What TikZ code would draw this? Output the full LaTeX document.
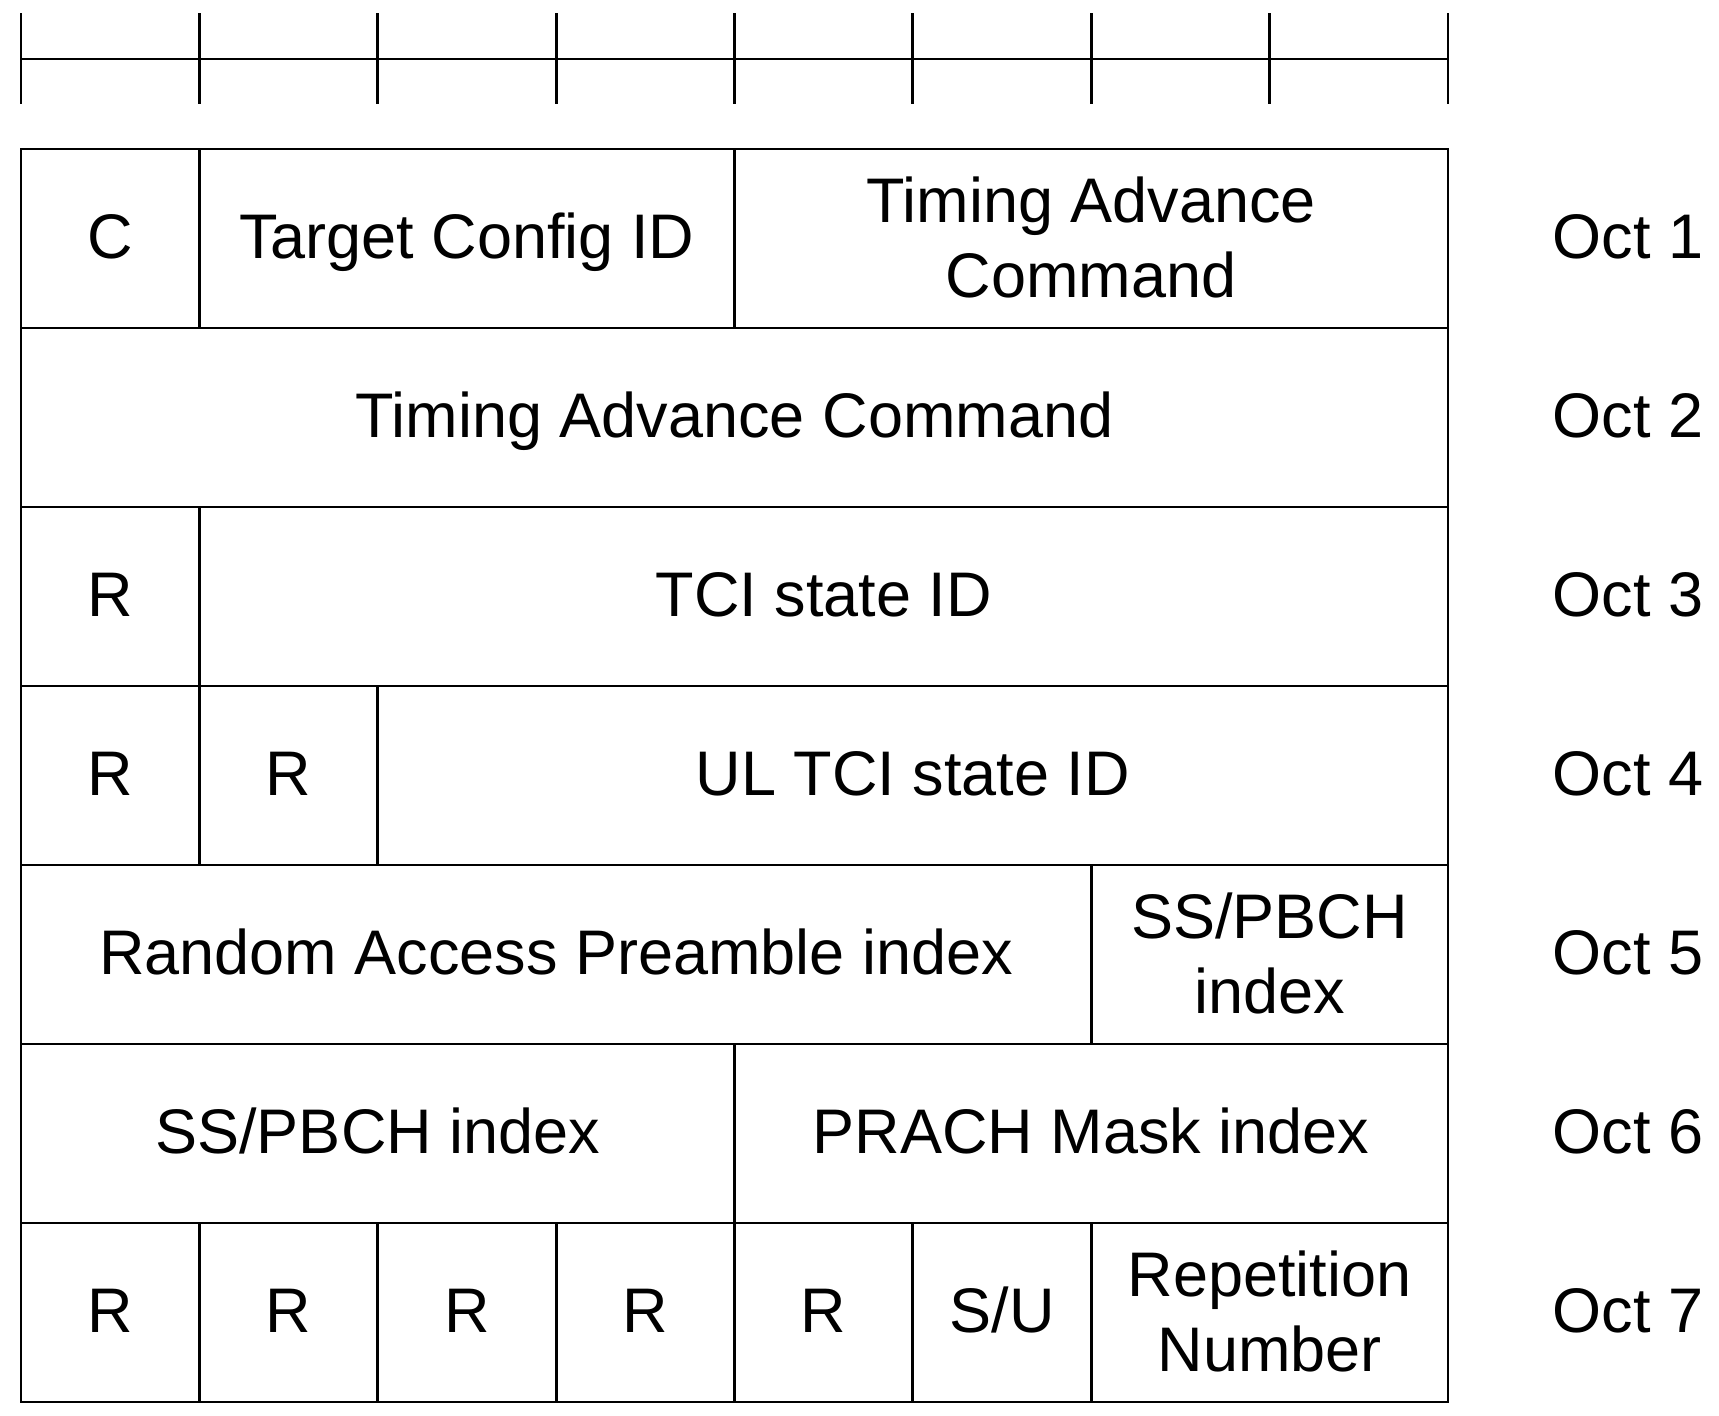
\documentclass[tikz,border=0pt]{standalone}
\usepackage{fontspec}
\setmainfont{Liberation Sans}
\begin{document}
\begin{tikzpicture}[x=0.5pt,y=-0.5pt,
  cellbox/.style={draw, line width=1.45pt, inner sep=0pt, align=center,
    font=\fontsize{31.5}{37.5}\selectfont},
  oneline/.style={text height=20.6pt, text depth=1pt},
  twoline/.style={text height=60.5pt, text depth=2pt},
  octlabel/.style={inner sep=0pt, text height=20.6pt, text depth=1pt,
    font=\fontsize{31.5}{37.5}\selectfont},
  rule/.style={line width=1.45pt}]
\useasboundingbox (0,0) rectangle (1719,1415);
\def\xo{21}\def\cw{178.375}\def\yo{149}\def\rh{179}
\newcommand\twolines[2]{\begin{tabular}[b]{@{}c@{}}#1\\#2\end{tabular}}
% #1 style, #2 name, #3 first col, #4 last col (exclusive), #5 row (1..7), #6 text
\newcommand\fieldcell[6]{%
  \pgfmathsetmacro\cx{\xo+\cw*(#3+#4)/2}%
  \pgfmathsetmacro\cy{\yo+\rh*(#5-0.5)}%
  \pgfmathsetmacro\ww{\cw*(#4-#3)*0.5}%
  \pgfmathsetmacro\hh{\rh*0.5}%
  \node[cellbox, #1, minimum width=\ww pt, minimum height=\hh pt] (#2) at (\cx,\cy) {#6};}
% ruler
\coordinate (rl) at (21,59);
\coordinate (rr) at (1448,59);
\draw[rule] (rl) -- (rr);
\foreach \k in {0,...,8}{
  \pgfmathsetmacro\tx{\xo+\cw*\k}
  \coordinate (t\k a) at (\tx,13);
  \coordinate (t\k b) at (\tx,104);
  \draw[rule] (t\k a) -- (t\k b);
}
% row 1
\fieldcell{oneline}{c}{0}{1}{1}{C}
\fieldcell{oneline}{tcid}{1}{4}{1}{Target Config ID}
\fieldcell{twoline}{tac1}{4}{8}{1}{\twolines{Timing Advance}{Command}}
% row 2
\fieldcell{oneline}{tac2}{0}{8}{2}{Timing Advance Command}
% row 3
\fieldcell{oneline}{r3a}{0}{1}{3}{R}
\fieldcell{oneline}{tci}{1}{8}{3}{TCI state ID}
% row 4
\fieldcell{oneline}{r4a}{0}{1}{4}{R}
\fieldcell{oneline}{r4b}{1}{2}{4}{R}
\fieldcell{oneline}{ultci}{2}{8}{4}{UL TCI state ID}
% row 5
\fieldcell{oneline}{rapi}{0}{6}{5}{Random Access Preamble index}
\fieldcell{twoline}{ss5}{6}{8}{5}{\twolines{SS/PBCH}{index}}
% row 6
\fieldcell{oneline}{ss6}{0}{4}{6}{SS/PBCH index}
\fieldcell{oneline}{prach}{4}{8}{6}{PRACH Mask index}
% row 7
\fieldcell{oneline}{r7a}{0}{1}{7}{R}
\fieldcell{oneline}{r7b}{1}{2}{7}{R}
\fieldcell{oneline}{r7c}{2}{3}{7}{R}
\fieldcell{oneline}{r7d}{3}{4}{7}{R}
\fieldcell{oneline}{r7e}{4}{5}{7}{R}
\fieldcell{oneline}{su}{5}{6}{7}{S/U}
\fieldcell{twoline}{rep}{6}{8}{7}{\twolines{Repetition}{Number}}
% octet labels
\foreach \i in {1,...,7}{
  \pgfmathsetmacro\oy{\yo+\rh*(\i-0.5)}
  \node[octlabel] (oct\i) at (1628,\oy) {Oct \i};
}
\end{tikzpicture}
\end{document}
